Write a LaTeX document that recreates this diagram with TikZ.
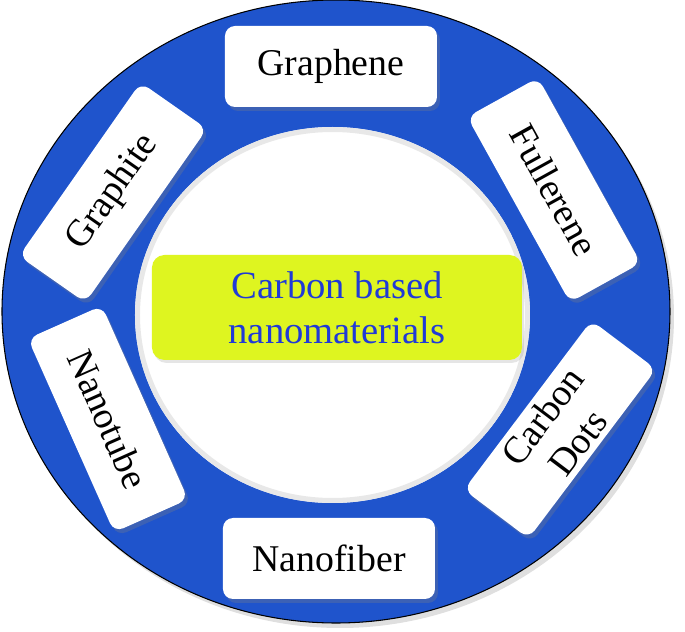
\documentclass[tikz,border=0pt]{standalone}
\usepackage{fontspec}
\setmainfont{Liberation Serif}
\usetikzlibrary{shadows}

\definecolor{ringblue}{RGB}{31,84,204}
\definecolor{coreyellow}{RGB}{222,245,32}
\definecolor{coretext}{RGB}{32,58,215}

\begin{document}
\begin{tikzpicture}[
    kind/.style={fill=white, rounded corners=0.2cm, minimum width=4.24cm,
      minimum height=1.62cm, inner sep=0pt, align=center,
      font=\fontsize{21.5}{25}\selectfont,
      drop shadow={opacity=0.3, shadow xshift=0.06cm, shadow yshift=-0.08cm}},
    core/.style={fill=coreyellow, rounded corners=0.25cm, minimum width=7.4cm,
      minimum height=2.1cm, align=center, text=coretext,
      font=\fontsize{22}{25.6}\selectfont,
      drop shadow={opacity=0.2, shadow xshift=0.04cm, shadow yshift=-0.06cm}}
  ]
    \useasboundingbox (-6.72, -6.41) rectangle (6.98, 6.23);

    % ring
    \fill[ringblue, draw=black, line width=0.6pt,
      drop shadow={opacity=0.25, shadow xshift=0.08cm, shadow yshift=-0.1cm}]
      (0, 0) ellipse [x radius=6.68, y radius=6.23];
    \fill[white] (-0.07, -0.07) ellipse [x radius=3.95, y radius=3.76];
    \draw[gray!18, line width=0.1cm] (-0.07, -0.07) ellipse [x radius=3.9, y radius=3.71];

    % kinds of carbon
    \node[kind] (graphene) at (-0.10, 4.90) {Graphene};
    \node[kind, rotate=-61] (fullerene) at (4.36, 2.43) {Fullerene};
    \node[kind, rotate=53] (dots) at (4.48, -2.36) {Carbon\\Dots};
    \node[kind] (nanofiber) at (-0.14, -4.94) {Nanofiber};
    \node[kind, rotate=-66] (nanotube) at (-4.56, -2.15) {Nanotube};
    \node[kind, rotate=55] (graphite) at (-4.46, 2.38) {Graphite};

    \node[core] (carbon) at (0.02, 0.08) {Carbon based\\nanomaterials};
  \end{tikzpicture}
\end{document}
